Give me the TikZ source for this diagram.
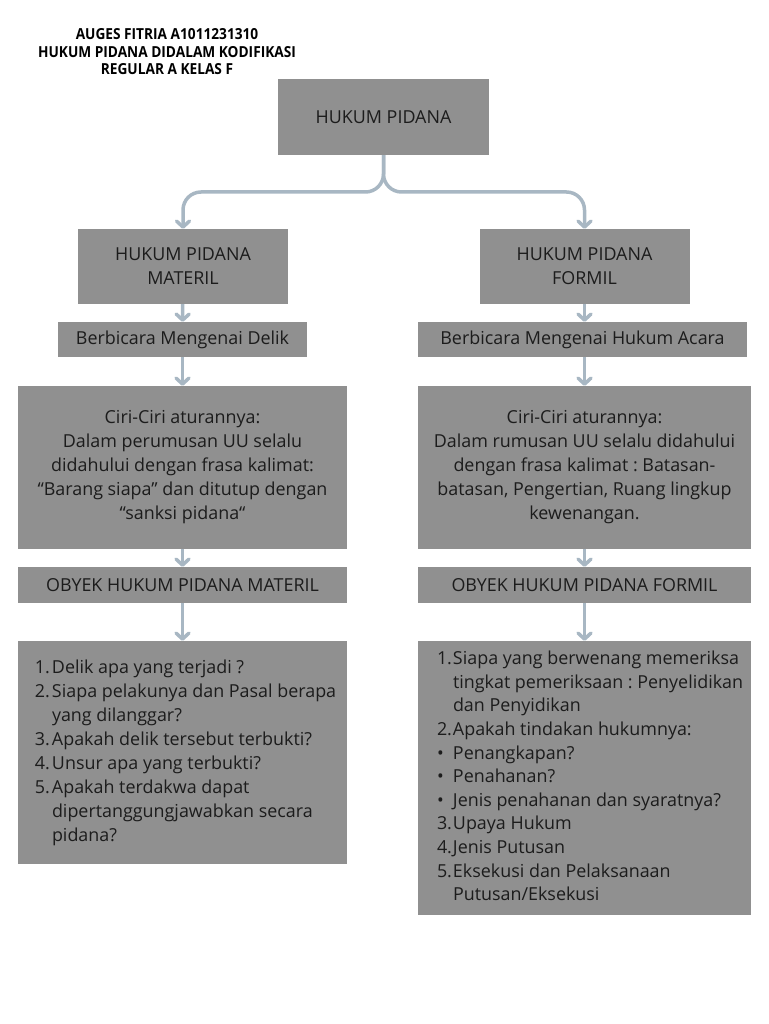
\documentclass[tikz,border=0pt]{standalone}
\usepackage{fontspec}
\setmainfont{Open Sans}
\newfontfamily\hdrfont[FakeStretch=0.9]{Open Sans}
\usetikzlibrary{arrows.meta, positioning, calc}
\definecolor{boxgray}{RGB}{144,144,144}
\definecolor{conngray}{RGB}{168,183,195}
\definecolor{txtdark}{RGB}{28,28,28}
\frenchspacing
\tikzset{
  pbox/.style={rectangle, fill=boxgray, text=txtdark, align=center,
    inner sep=0pt, font=\fontsize{17.9}{24}\selectfont},
  arrow/.style={-{Straight Barb[length=6pt, width=13pt, line cap=round, line join=round]},
    line width=3.5pt, color=conngray},
  hdr/.style={align=center, font=\hdrfont\bfseries\fontsize{15.2}{17.5}\selectfont}
}

\begin{document}
\begin{tikzpicture}[x=1pt, y=-1pt]
    \useasboundingbox (0,0) rectangle (768,1024);

    % Header
    \node[hdr] (title) at (167,52) {AUGES FITRIA A1011231310\\HUKUM PIDANA DIDALAM KODIFIKASI\\REGULAR A KELAS F};

    % Root
    \node[pbox, minimum width=211pt, minimum height=76pt] (hp) at (383.5,117) {HUKUM PIDANA};

    % Two branches
    \node[pbox, minimum width=210pt, minimum height=75pt] (mat) at (183,266.5) {HUKUM PIDANA\\MATERIL};
    \node[pbox, minimum width=210pt, minimum height=75pt] (for) at (584.5,266.5) {HUKUM PIDANA\\FORMIL};

    \node[pbox, minimum width=249pt, minimum height=35pt] (delik) at (182.5,339.5) {Berbicara Mengenai Delik};
    \node[pbox, minimum width=329pt, minimum height=35pt] (acara) at (582.5,339.5) {Berbicara Mengenai Hukum Acara};

    % Characteristics
    \node[pbox, minimum width=329pt, minimum height=163pt] (ciriM) at (182.5,467.5)
      {Ciri-Ciri aturannya:\\Dalam perumusan UU selalu\\didahului dengan frasa kalimat:\\“Barang siapa” dan ditutup dengan\\“sanksi pidana“};
    \node[pbox, minimum width=333pt, minimum height=163pt] (ciriF) at (584.5,467.5)
      {Ciri-Ciri aturannya:\\Dalam rumusan UU selalu didahului\\dengan frasa kalimat : Batasan-\\batasan, Pengertian, Ruang lingkup\\kewenangan.};

    % Objects
    \node[pbox, minimum width=329pt, minimum height=36pt] (obyM) at (182.5,585) {OBYEK HUKUM PIDANA MATERIL};
    \node[pbox, minimum width=333pt, minimum height=36pt] (obyF) at (584.5,585) {OBYEK HUKUM PIDANA FORMIL};

    % Lists
    \node[pbox, minimum width=329pt, minimum height=223pt] (listM) at (182.5,752.5)
      {\makebox[329pt][l]{\hspace{17pt}\begin{tabular}{@{}p{17pt}@{}l@{}}
        1. & Delik apa yang terjadi ?\\
        2. & Siapa pelakunya dan Pasal berapa\\
           & yang dilanggar?\\
        3. & Apakah delik tersebut terbukti?\\
        4. & Unsur apa yang terbukti?\\
        5. & Apakah terdakwa dapat\\
           & dipertanggungjawabkan secara\\
           & pidana?
      \end{tabular}}};
    \node[pbox, minimum width=333pt, minimum height=274pt, font=\fontsize{17.9}{23.6}\selectfont] (listF) at (584.5,778)
      {\makebox[333pt][l]{\hspace{19pt}\begin{tabular}{@{}p{16pt}@{}l@{}}
        1. & Siapa yang berwenang memeriksa\\
           & tingkat pemeriksaan : Penyelidikan\\
           & dan Penyidikan\\
        2. & Apakah tindakan hukumnya:\\
        \textbullet & Penangkapan?\\
        \textbullet & Penahanan?\\
        \textbullet & Jenis penahanan dan syaratnya?\\
        3. & Upaya Hukum\\
        4. & Jenis Putusan\\
        5. & Eksekusi dan Pelaksanaan\\
           & Putusan/Eksekusi
      \end{tabular}}};

    % Connectors
    \coordinate (split) at (383.5,192);
    \draw[arrow, rounded corners=18pt] (hp.south) -- (split) -| (mat.north);
    \draw[arrow, rounded corners=18pt] (hp.south) -- (split) -| (for.north);

    \draw[arrow] (mat) -- (delik);
    \draw[arrow] (delik) -- (ciriM);
    \draw[arrow] (ciriM) -- (obyM);
    \draw[arrow] (obyM) -- (listM);

    \draw[arrow] (for.south) -- (for.south |- acara.north);
    \draw[arrow] (acara.south -| ciriF.north) -- (ciriF.north);
    \draw[arrow] (ciriF) -- (obyF);
    \draw[arrow] (obyF) -- (listF);
\end{tikzpicture}
\end{document}
